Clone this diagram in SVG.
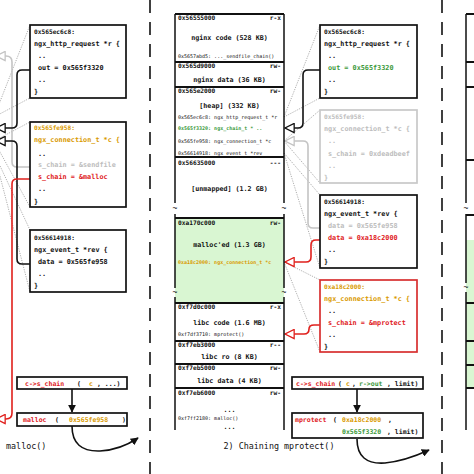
<svg xmlns="http://www.w3.org/2000/svg" width="474" height="474" viewBox="0 0 474 474">
<defs>
<style>
text{font-family:"DejaVu Sans Mono","Liberation Mono",monospace;font-weight:bold;fill:#111}
.b{font-size:6.8px}
.h{font-size:6.2px}
.m{font-size:6.7px}
.s{font-size:5px;font-weight:normal}
.sb{font-size:5px;font-weight:bold}
.f{font-size:6.5px}
.c{font-size:8.4px;font-weight:normal}
.t{font-size:8px;font-weight:normal}
.o{fill:#d99a00}
.r{fill:#e0201c}
.g{fill:#3c9a3c}
.gy{fill:#bdbdbd}
.box{fill:#fff;stroke:#111;stroke-width:1.7}
.gbox{fill:#fff;stroke:#c8c8c8;stroke-width:1.7}
.rbox{fill:#fff;stroke:#d83030;stroke-width:1.7}
.map{fill:none;stroke:#111;stroke-width:1.5}
.sep{stroke:#111;stroke-width:2.2}
.dot{stroke:#777;stroke-width:0.6;stroke-dasharray:1.2 1.2;fill:none}
.k{fill:none;stroke:#111;stroke-width:1.6}
.kr{fill:none;stroke:#e0201c;stroke-width:1.6}
.kg{fill:none;stroke:#c4c4c4;stroke-width:1.6}
.div{stroke:#111;stroke-width:1.6;stroke-dasharray:13 9}
</style>
<marker id="ok" viewBox="0 0 12 12" refX="11" refY="6" markerWidth="11" markerHeight="11" markerUnits="userSpaceOnUse" orient="auto"><path d="M1,1 L11,6 L1,11 Z" fill="#fff" stroke="#111" stroke-width="1.4"/></marker>
<marker id="or" viewBox="0 0 12 12" refX="11" refY="6" markerWidth="11" markerHeight="11" markerUnits="userSpaceOnUse" orient="auto"><path d="M1,1 L11,6 L1,11 Z" fill="#fff" stroke="#e0201c" stroke-width="1.4"/></marker>
<marker id="og" viewBox="0 0 12 12" refX="11" refY="6" markerWidth="11" markerHeight="11" markerUnits="userSpaceOnUse" orient="auto"><path d="M1,1 L11,6 L1,11 Z" fill="#fff" stroke="#c4c4c4" stroke-width="1.4"/></marker>
<marker id="fk" viewBox="0 0 10 10" refX="9" refY="5" markerWidth="8" markerHeight="8" markerUnits="userSpaceOnUse" orient="auto"><path d="M0,0 L10,5 L0,10 Z" fill="#111"/></marker>
</defs>

<!-- dividers -->
<line class="div" x1="150" y1="0" x2="150" y2="474"/>
<line class="div" x1="442" y1="0" x2="442" y2="474"/>

<!-- connectors -->
<g id="connectors">
  <!-- panel 1 zoom lines -->
  <path class="dot" d="M-6,117 L30,25 M-6,117 L30,98 M-6,141 L30,122 M-6,141 L30,207 M-6,153 L30,230 M-6,153 L30,292"/>
  <path class="kg" d="M30,167 H17 Q12,167 12,162 V62 Q12,56 6,56 H-4" marker-end="url(#og)"/>
  <path class="k" d="M30,70 H22 Q17,70 17,75 V123 Q17,128 12,128 H-4" marker-end="url(#ok)"/>
  <path class="k" d="M30,264 H22 Q17,264 17,259 V146 Q17,141 12,141 H-4" marker-end="url(#ok)"/>
  <path class="kr" d="M30,179 H17 Q12,179 12,184 V413 Q12,419 6,419 H-4" marker-end="url(#or)"/>
  <line class="k" x1="72" y1="389" x2="72" y2="412" marker-end="url(#fk)"/>
  <path class="k" d="M72,426 Q72,452 100,451 Q120,450 138,438" marker-end="url(#fk)"/>

  <!-- panel 2 zoom lines -->
  <path class="dot" d="M284,117 L320,25 M284,117 L320,98 M284,141 L320,110 M284,141 L320,183 M284,153 L320,195 M284,153 L320,268 M284,262 L320,280 M284,262 L320,352"/>
  <path class="k" d="M320,70 H308 Q303,70 303,75 V123 Q303,128 298,128 H285" marker-end="url(#ok)"/>
  <path class="kg" d="M320,228 H313 Q308,228 308,223 V146 Q308,141 303,141 H285" marker-end="url(#og)"/>
  <path class="kr" d="M320,240 H316 Q311,240 311,245 V257 Q311,262 306,262 H285" marker-end="url(#or)"/>
  <path class="kr" d="M320,325 H314 Q309,325 309,329 V329 Q309,334 304,334 H285" marker-end="url(#or)"/>
  <line class="k" x1="357" y1="389" x2="357" y2="412" marker-end="url(#fk)"/>
  <path class="k" d="M357,439 Q357,465 385,463 Q405,461 429,450" marker-end="url(#fk)"/>
</g>

<!-- ===== Panel 1 ===== -->
<g id="p1-request">
  <rect class="box" x="30" y="25" width="96" height="73"/>
  <text class="h" x="34" y="34">0x565ec6c8:</text>
  <text class="b" x="34" y="46">ngx_http_request *r {</text>
  <text class="b" x="38" y="58">..</text>
  <text class="b" x="38" y="70">out = 0x565f3320</text>
  <text class="b" x="38" y="82">..</text>
  <text class="b" x="34" y="94">}</text>
</g>
<g id="p1-connection">
  <rect class="box" x="30" y="122" width="96" height="85"/>
  <text class="h o" x="34" y="130">0x565fe958:</text>
  <text class="b o" x="34" y="142">ngx_connection_t *c {</text>
  <text class="b" x="38" y="156">..</text>
  <text class="b gy" x="38" y="167">s_chain = &amp;sendfile</text>
  <text class="b r" x="38" y="179">s_chain = &amp;malloc</text>
  <text class="b" x="38" y="191">..</text>
  <text class="b" x="34" y="204">}</text>
</g>
<g id="p1-event">
  <rect class="box" x="30" y="230" width="96" height="62"/>
  <text class="h" x="34" y="240">0x56614918:</text>
  <text class="b" x="34" y="252">ngx_event_t *rev {</text>
  <text class="b" x="38" y="264">data = 0x565fe958</text>
  <text class="b" x="38" y="276">..</text>
  <text class="b" x="34" y="288">}</text>
</g>
<g id="p1-call1">
  <rect class="box" x="17" y="377" width="110" height="12"/>
  <text class="f r" x="25" y="386">c-&gt;s_chain</text>
  <text class="f" x="77" y="386">(</text>
  <text class="f o" x="89" y="386">c</text>
  <text class="f" x="97" y="386">, ...)</text>
</g>
<g id="p1-call2">
  <rect class="box" x="17" y="413" width="110" height="13"/>
  <text class="f r" x="23" y="422">malloc</text>
  <text class="f" x="55" y="422">(</text>
  <text class="f o" x="69" y="422">0x565fe958</text>
  <text class="f" x="122" y="422">)</text>
</g>
<text class="c" x="6" y="449">malloc()</text>

<!-- ===== Panel 2 memory map ===== -->
<g id="p2-map">
  <rect x="175" y="218" width="109" height="85" fill="#d9f6d2"/>
  <path class="map" d="M175,14 V203 M284,14 V203 M175,214 V288 M284,214 V288 M175,297 V430 M284,297 V430"/>
  <path class="sep" d="M175,14 H284 M175,62 H284 M175,87 H284 M175,157 H284 M175,218 H284 M175,303 H284 M175,341 H284 M175,364 H284 M175,388 H284"/>
  <text class="t" x="175" y="211" text-anchor="middle">~</text>
  <text class="t" x="284" y="211" text-anchor="middle">~</text>
  <text class="t" x="175" y="295" text-anchor="middle">~</text>
  <text class="t" x="284" y="295" text-anchor="middle">~</text>

  <text class="h" x="178" y="20">0x56555000</text><text class="h" x="281" y="20" text-anchor="end">r-x</text>
  <text class="m" x="229.5" y="40" text-anchor="middle">nginx code (528 KB)</text>
  <text class="s" x="178" y="58">0x5657abd5: ..._sendfile_chain()</text>

  <text class="h" x="178" y="68">0x565d9000</text><text class="h" x="281" y="68" text-anchor="end">rw-</text>
  <text class="m" x="229.5" y="82" text-anchor="middle">nginx data (36 KB)</text>

  <text class="h" x="178" y="93">0x565e2000</text><text class="h" x="281" y="93" text-anchor="end">rw-</text>
  <text class="m" x="229.5" y="108" text-anchor="middle">[heap] (332 KB)</text>
  <text class="s" x="178" y="119">0x565ec6c8: ngx_http_request_t *r</text>
  <text class="sb g" x="178" y="130">0x565f3320: ngx_chain_t * ..</text>
  <text class="s" x="178" y="143">0x565fe958: ngx_connection_t *c</text>
  <text class="s" x="178" y="155">0x56614918: ngx_event_t *rev</text>

  <text class="h" x="178" y="165">0x56635000</text><text class="h" x="281" y="165" text-anchor="end">---</text>
  <text class="m" x="229.5" y="191" text-anchor="middle">[unmapped] (1.2 GB)</text>

  <text class="h" x="178" y="225">0xa170c000</text><text class="h" x="281" y="225" text-anchor="end">rw-</text>
  <text class="m" x="229.5" y="247" text-anchor="middle">malloc'ed (1.3 GB)</text>
  <text class="sb o" x="178" y="264">0xa18c2000: ngx_connection_t *c</text>

  <text class="h" x="178" y="309">0xf7d0c000</text><text class="h" x="281" y="309" text-anchor="end">r-x</text>
  <text class="m" x="229.5" y="325" text-anchor="middle">libc code (1.6 MB)</text>
  <text class="s" x="178" y="336">0xf7df3710: mprotect()</text>

  <text class="h" x="178" y="347">0xf7eb3000</text><text class="h" x="281" y="347" text-anchor="end">r--</text>
  <text class="m" x="229.5" y="359" text-anchor="middle">libc ro (8 KB)</text>

  <text class="h" x="178" y="370">0xf7eb5000</text><text class="h" x="281" y="370" text-anchor="end">rw-</text>
  <text class="m" x="229.5" y="383" text-anchor="middle">libc data (4 KB)</text>

  <text class="h" x="178" y="395">0xf7eb6000</text><text class="h" x="281" y="395" text-anchor="end">rw-</text>
  <text class="m" x="229.5" y="412" text-anchor="middle">...</text>
  <text class="s" x="178" y="420">0xf7ff2180: malloc()</text>
  <text class="m" x="229.5" y="429" text-anchor="middle">...</text>
</g>

<!-- ===== Panel 2 structs ===== -->
<g id="p2-request">
  <rect class="box" x="320" y="25" width="97" height="73"/>
  <text class="h" x="324" y="34">0x565ec6c8:</text>
  <text class="b" x="324" y="46">ngx_http_request *r {</text>
  <text class="b" x="328" y="58">..</text>
  <text class="b g" x="328" y="70">out = 0x565f3320</text>
  <text class="b" x="328" y="82">..</text>
  <text class="b" x="324" y="94">}</text>
</g>
<g id="p2-connection-old">
  <rect class="gbox" x="320" y="110" width="97" height="73"/>
  <text class="h gy" x="324" y="119">0x565fe958:</text>
  <text class="b gy" x="324" y="131">ngx_connection_t *c {</text>
  <text class="b gy" x="328" y="143">..</text>
  <text class="b gy" x="328" y="156">s_chain = 0xdeadbeef</text>
  <text class="b gy" x="328" y="168">..</text>
  <text class="b gy" x="324" y="180">}</text>
</g>
<g id="p2-event">
  <rect class="box" x="320" y="195" width="97" height="73"/>
  <text class="h" x="324" y="204">0x56614918:</text>
  <text class="b" x="324" y="216">ngx_event_t *rev {</text>
  <text class="b gy" x="328" y="228">data = 0x565fe958</text>
  <text class="b r" x="328" y="240">data = 0xa18c2000</text>
  <text class="b" x="328" y="252">..</text>
  <text class="b" x="324" y="264">}</text>
</g>
<g id="p2-connection-new">
  <rect class="rbox" x="320" y="280" width="97" height="72"/>
  <text class="h o" x="324" y="289">0xa18c2000:</text>
  <text class="b o" x="324" y="301">ngx_connection_t *c {</text>
  <text class="b" x="328" y="313">..</text>
  <text class="b r" x="328" y="325">s_chain = &amp;mprotect</text>
  <text class="b" x="328" y="337">..</text>
  <text class="b" x="324" y="349">}</text>
</g>
<g id="p2-call1">
  <rect class="box" x="292" y="377" width="131" height="12"/>
  <text class="f r" x="296" y="386">c-&gt;s_chain</text>
  <text class="f" x="338" y="386">(</text>
  <text class="f o" x="346" y="386">c</text>
  <text class="f" x="352" y="386">,</text>
  <text class="f g" x="359" y="386">r-&gt;out</text>
  <text class="f" x="387" y="386">, limit)</text>
</g>
<g id="p2-call2">
  <rect class="box" x="292" y="413" width="131" height="25"/>
  <text class="f r" x="295" y="422">mprotect</text>
  <text class="f" x="333" y="422">(</text>
  <text class="f o" x="342" y="422">0xa18c2000</text>
  <text class="f" x="388" y="422">,</text>
  <text class="f g" x="342" y="434">0x565f3320</text>
  <text class="f" x="387" y="434">, limit)</text>
</g>
<text class="c" x="279" y="449" text-anchor="middle">2) Chaining mprotect()</text>

<!-- ===== Panel 3 (cut off) ===== -->
<g id="p3-map">
  <rect x="466" y="240" width="10" height="148" fill="#d9f6d2"/>
  <path class="map" d="M466,14 V203 M466,214 V283 M466,292 V430"/>
  <path class="sep" d="M466,14 H476 M466,62 H476 M466,87 H476 M466,160 H476 M466,215 H476 M466,303 H476 M466,341 H476 M466,365 H476 M466,388 H476"/>
  <text class="t" x="466" y="211" text-anchor="middle">~</text>
  <text class="t" x="466" y="290" text-anchor="middle">~</text>
</g>
</svg>
